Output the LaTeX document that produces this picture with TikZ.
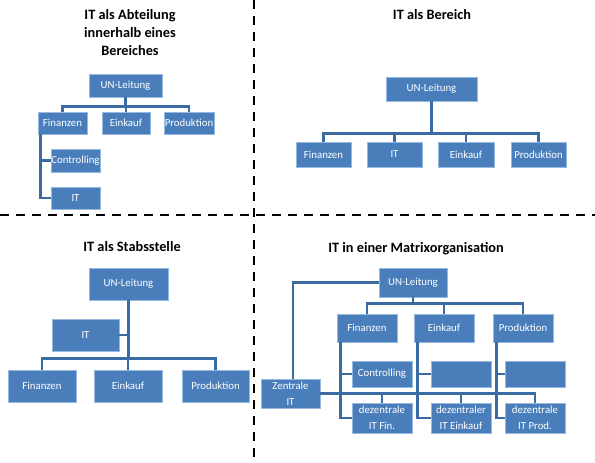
\documentclass[tikz,border=0pt]{standalone}
\usepackage{fontspec}
\setmainfont{Carlito}
\definecolor{boxblau}{RGB}{74,126,187}
\definecolor{boxrand}{RGB}{150,185,225}
\definecolor{linie}{RGB}{58,108,163}
\tikzset{
  box/.style={draw=boxrand, line width=0.6pt, fill=boxblau, text=white, inner sep=0pt, align=center, font=\fontsize{10.8}{16}\selectfont},
  verb/.style={draw=linie, line width=2.8pt},
  titel/.style={font=\bfseries\fontsize{14.3}{18}\selectfont, align=center},
  trenn/.style={line width=2pt, dash pattern=on 9pt off 7pt}
}
\begin{document}
\begin{tikzpicture}[x=1pt,y=-1pt]
\useasboundingbox (0,0) rectangle (595,463);
%Trennlinien
\draw[trenn] (0,215) -- (595,215);
\draw[trenn] (254,0) -- (254,463);

%IT als Abteilung
\node[titel] (t1) at (130,33) {IT als Abteilung\\innerhalb eines\\Bereiches};
\node[box, minimum width=73pt, minimum height=23pt] (ul1) at (125.5,85.5) {UN-Leitung};
\node[box, minimum width=49pt, minimum height=22pt] (fin1) at (62.5,123) {Finanzen};
\node[box, minimum width=48pt, minimum height=22pt] (ek1) at (126,123) {Einkauf};
\node[box, minimum width=50pt, minimum height=22pt] (pr1) at (189,123) {Produktion};
\node[box, minimum width=49pt, minimum height=23pt] (ct1) at (75.5,160.5) {Controlling};
\node[box, minimum width=49pt, minimum height=22pt] (it1) at (75.5,198) {IT};
\draw[verb] (ul1.south) -- ++(0,9) -| (fin1.north);
\draw[verb] (ul1.south) -- ++(0,9) -| (ek1.north);
\draw[verb] (ul1.south) -- ++(0,9) -| (pr1.north);
\draw[verb] ([xshift=3pt]fin1.south west) |- (ct1.west);
\draw[verb] ([xshift=3pt]fin1.south west) |- (it1.west);

%IT als Bereich
\node[titel] (t2) at (432,15) {IT als Bereich};
\node[box, minimum width=91pt, minimum height=24pt] (ul2) at (431.5,89) {UN-Leitung};
\node[box, minimum width=55pt, minimum height=25pt] (fin2) at (323.5,154.5) {Finanzen};
\node[box, minimum width=55pt, minimum height=25pt] (it2) at (394.5,154.5) {IT};
\node[box, minimum width=56pt, minimum height=25pt] (ek2) at (466,154.5) {Einkauf};
\node[box, minimum width=55pt, minimum height=25pt] (pr2) at (538.5,154.5) {Produktion};
\draw[verb] (ul2.south) -- ++(0,32) -| (fin2.north);
\draw[verb] (ul2.south) -- ++(0,32) -| (it2.north);
\draw[verb] (ul2.south) -- ++(0,32) -| (ek2.north);
\draw[verb] (ul2.south) -- ++(0,32) -| (pr2.north);

%IT als Stabsstelle
\node[titel] (t3) at (132,247) {IT als Stabsstelle};
\node[box, minimum width=79pt, minimum height=32pt] (ul3) at (128.5,284) {UN-Leitung};
\node[box, minimum width=67pt, minimum height=32pt] (it3) at (85.5,335) {IT};
\node[box, minimum width=68pt, minimum height=32pt] (fin3) at (42,386) {Finanzen};
\node[box, minimum width=68pt, minimum height=32pt] (ek3) at (128,386) {Einkauf};
\node[box, minimum width=67pt, minimum height=32pt] (pr3) at (215.5,386) {Produktion};
\draw[verb] (it3.east) -- (ul3.south |- it3.east);
\draw[verb] (ul3.south) -- ++(0,58) -| (fin3.north);
\draw[verb] (ul3.south) -- ++(0,58) -| (ek3.north);
\draw[verb] (ul3.south) -- ++(0,58) -| (pr3.north);

%IT in einer Matrixorganisation
\node[titel] (t4) at (416,249) {IT in einer Matrixorganisation};
\node[box, minimum width=68pt, minimum height=29pt] (ul4) at (413,282.5) {UN-Leitung};
\node[box, minimum width=59pt, minimum height=29pt] (zit) at (290.5,393.5) {Zentrale\\IT};
\node[box, minimum width=60pt, minimum height=28pt] (fin4) at (367,328) {Finanzen};
\node[box, minimum width=60pt, minimum height=28pt] (ek4) at (444,328) {Einkauf};
\node[box, minimum width=60pt, minimum height=28pt] (pr4) at (523,328) {Produktion};
\node[box, minimum width=60pt, minimum height=26pt] (ct4) at (382,374) {Controlling};
\node[box, minimum width=60pt, minimum height=26pt] (le1) at (461,374) {};
\node[box, minimum width=60pt, minimum height=26pt] (le2) at (535,374) {};
\node[box, minimum width=60pt, minimum height=30pt] (dz1) at (382,418) {dezentrale\\IT Fin.};
\node[box, minimum width=60pt, minimum height=30pt] (dz2) at (461,418) {dezentraler\\IT Einkauf};
\node[box, minimum width=60pt, minimum height=30pt] (dz3) at (535,418) {dezentrale\\IT Prod.};
\draw[verb] (ul4.west) -| ([xshift=2.5pt]zit.north);
\draw[verb] (ul4.south) -- ++(0,6) -| (fin4.north);
\draw[verb] (ul4.south) -- ++(0,6) -| (ek4.north);
\draw[verb] (ul4.south) -- ++(0,6) -| (pr4.north);
\draw[verb] (zit.east) -| (dz1.north);
\draw[verb] (zit.east) -| (dz2.north);
\draw[verb] (zit.east) -| (dz3.north);
\draw[verb] ([xshift=4pt]fin4.south west) |- (ct4.west);
\draw[verb] ([xshift=4pt]fin4.south west) |- (dz1.west);
\draw[verb] ([xshift=4pt]ek4.south west) |- (le1.west);
\draw[verb] ([xshift=4pt]ek4.south west) |- (dz2.west);
\draw[verb] ([xshift=4pt]pr4.south west) |- (le2.west);
\draw[verb] ([xshift=4pt]pr4.south west) |- (dz3.west);
\end{tikzpicture}
\end{document}
